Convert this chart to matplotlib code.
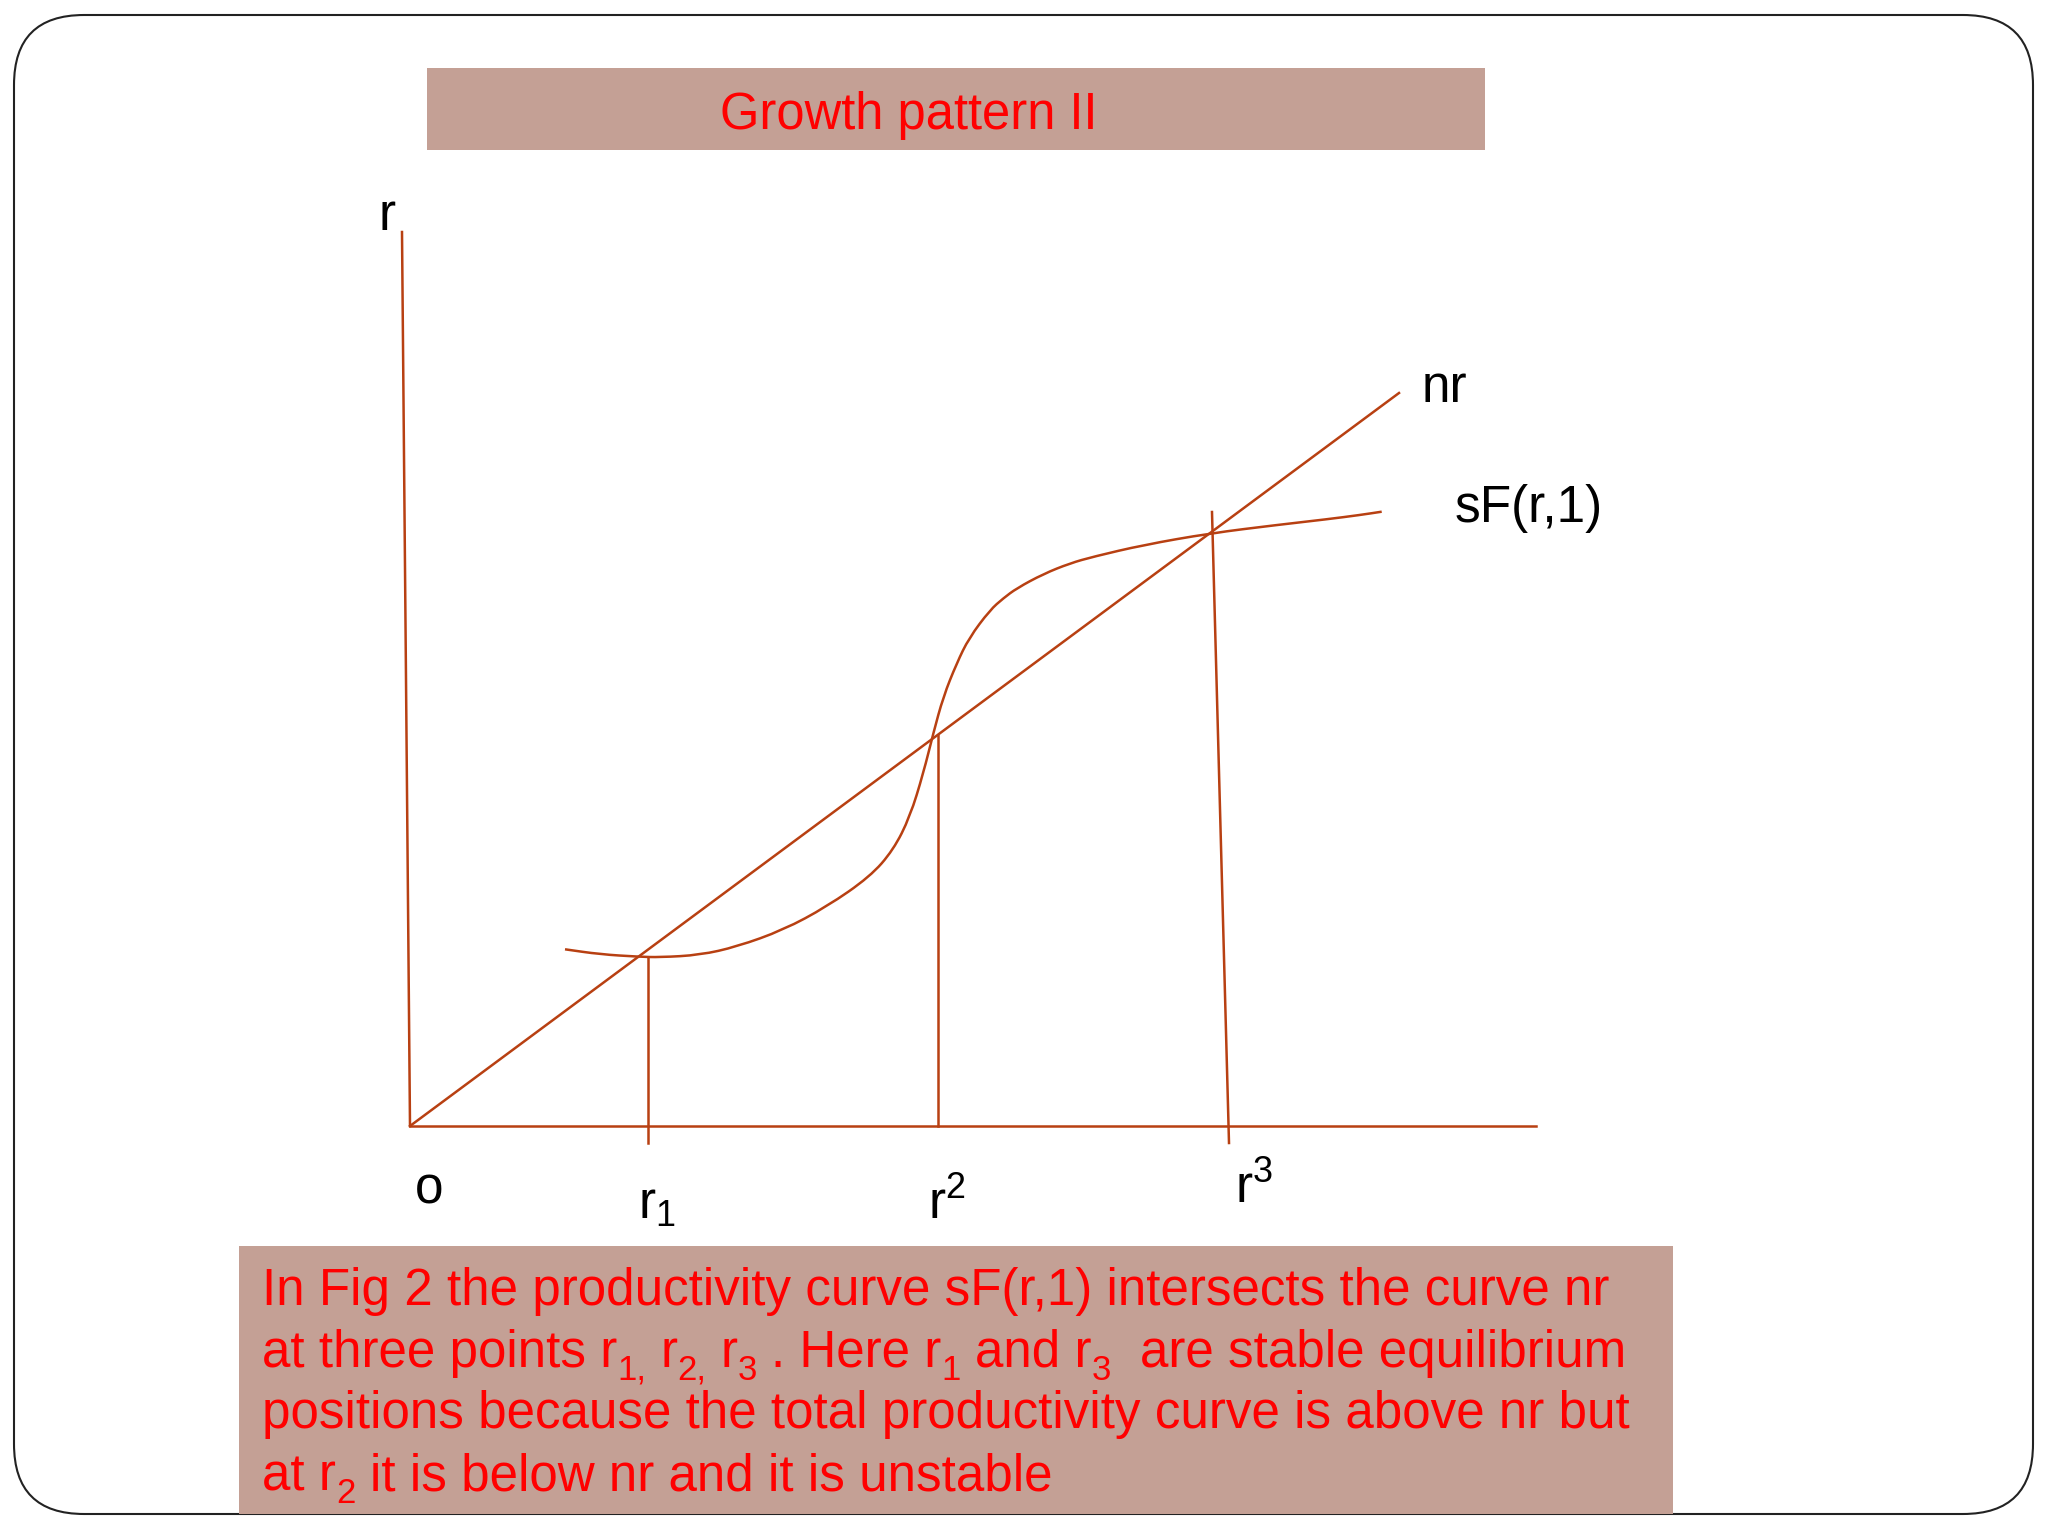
import matplotlib
matplotlib.use("Agg")
import matplotlib.pyplot as plt
from matplotlib.patches import FancyBboxPatch, Rectangle, PathPatch
from matplotlib.path import Path
from matplotlib.transforms import Affine2D
from matplotlib.font_manager import FontProperties

plt.rcParams['font.family'] = ['Liberation Sans', 'DejaVu Sans']

W, H = 2048, 1536

# diagram values (diagram units, origin at o)
axis_x = [0.0, 11.26]
axis_y = [0.0, 0.0]
vaxis_x = [-0.08, 0.0]
vaxis_y = [8.94, 0.0]
nr_x = [0.0, 9.89]
nr_y = [0.0, 7.33]
sf_x = [1.55, 1.90, 2.283, 2.50, 2.90, 3.267, 3.733, 4.167, 4.60, 4.833,
        5.00, 5.133, 5.233, 5.333, 5.467, 5.59, 5.80, 5.933, 6.067, 6.333,
        6.60, 6.833, 7.333, 8.00, 8.667, 9.167, 9.50, 9.717]
sf_y = [1.767, 1.717, 1.693, 1.687, 1.71, 1.793, 1.96, 2.193, 2.493, 2.76,
        3.093, 3.527, 3.927, 4.293, 4.627, 4.88, 5.16, 5.277, 5.377, 5.52,
        5.627, 5.693, 5.81, 5.927, 6.01, 6.067, 6.11, 6.143]
drop_x = [[2.38, 2.38], [5.28, 5.28], [8.02, 8.19]]
drop_y = [[1.69, -0.17], [3.91, 0.0], [6.14, -0.17]]

title = "Growth pattern II"
# (text, is_subscript)
body = [
    [("In Fig 2 the productivity curve sF(r,1) intersects the curve nr", False)],
    [("at three points r", False), ("1,", True), (" r", False), ("2,", True), (" r", False),
     ("3", True), (" . Here r", False), ("1", True), (" and r", False), ("3", True),
     ("  are stable equilibrium", False)],
    [("positions because the total productivity curve is above nr but", False)],
    [("at r", False), ("2", True), (" it is below nr and it is unstable", False)],
]
labels = [
    ("r", 396, 230, 'right'),
    ("nr", 1422, 402, 'left'),
    ("sF(r,1)", 1455, 522, 'left'),
    ("o", 415, 1203, 'left'),
    (r"$\mathregular{r_{1}}$", 638, 1219, 'left'),
    (r"$\mathregular{r^{2}}$", 928, 1219, 'left'),
    (r"$\mathregular{r^{3}}$", 1235, 1203, 'left'),
]

line_c = '#B84012'
box_c = '#C4A095'
red = '#FF0000'

fig = plt.figure(figsize=(W / 100, H / 100), dpi=100)
ax = fig.add_axes([0, 0, 1, 1])
ax.set_xlim(-4.10, 16.38)
ax.set_ylim(-4.10, 11.26)
ax.axis('off')
rend = fig.canvas.get_renderer()

# pixel coordinates measured from the top-left corner
pix = Affine2D().scale(1 / W, -1 / H).translate(0, 1) + fig.transFigure


def advance(s, fs):
    fp = FontProperties(family='Liberation Sans', size=fs)
    w1 = rend.get_text_width_height_descent('|' + s + '|', fp, ismath=False)[0]
    w0 = rend.get_text_width_height_descent('||', fp, ismath=False)[0]
    return w1 - w0


def draw_runs(x, y, runs, fs, color):
    for s, sub in runs:
        size = fs * 0.68 if sub else fs
        yy = y + 13 if sub else y
        lead = len(s) - len(s.lstrip(' '))
        x += advance(' ' * lead, size)
        s = s.lstrip(' ')
        ax.text(x, yy, s, transform=pix, color=color, fontsize=size,
                ha='left', va='baseline', zorder=3)
        x += advance(s, size)


frame = FancyBboxPatch((14, 15), 2019, 1499, boxstyle="round,pad=0,rounding_size=70",
                       transform=pix, fc='white', ec='#222222', lw=1.5, zorder=0)
ax.add_patch(frame)

ax.add_patch(Rectangle((427, 68), 1058, 82, transform=pix, fc=box_c, ec='none', zorder=1))
ax.text(720, 129, title, transform=pix, color=red, fontsize=36.5, ha='left', va='baseline', zorder=3)

ax.add_patch(Rectangle((239, 1246), 1434, 268, transform=pix, fc=box_c, ec='none', zorder=1))
for i, runs in enumerate(body):
    draw_runs(262, 1305 + i * 61.7, runs, 36.8, red)

# diagram
lw = 1.8
ax.plot(axis_x, axis_y, color=line_c, lw=lw, zorder=2)
ax.plot(vaxis_x, vaxis_y, color=line_c, lw=lw, zorder=2)
ax.plot(nr_x, nr_y, color=line_c, lw=lw, zorder=2)
for xs, ys in zip(drop_x, drop_y):
    ax.plot(xs, ys, color=line_c, lw=lw, zorder=2)

# productivity curve drawn as a smooth path through the read points
pts = list(zip(sf_x, sf_y))
verts = [pts[0], ((pts[0][0] + pts[1][0]) / 2, (pts[0][1] + pts[1][1]) / 2)]
codes = [Path.MOVETO, Path.LINETO]
for i in range(1, len(pts) - 1):
    mid = ((pts[i][0] + pts[i + 1][0]) / 2, (pts[i][1] + pts[i + 1][1]) / 2)
    verts += [pts[i], mid]
    codes += [Path.CURVE3, Path.CURVE3]
verts.append(pts[-1])
codes.append(Path.LINETO)
ax.add_patch(PathPatch(Path(verts, codes), fill=False, ec=line_c, lw=lw, zorder=2))

for txt, x, y, ha in labels:
    ax.text(x, y, txt, transform=pix, color='black', fontsize=37, ha=ha, va='baseline', zorder=3)

fig.savefig("out.png", dpi=100)
